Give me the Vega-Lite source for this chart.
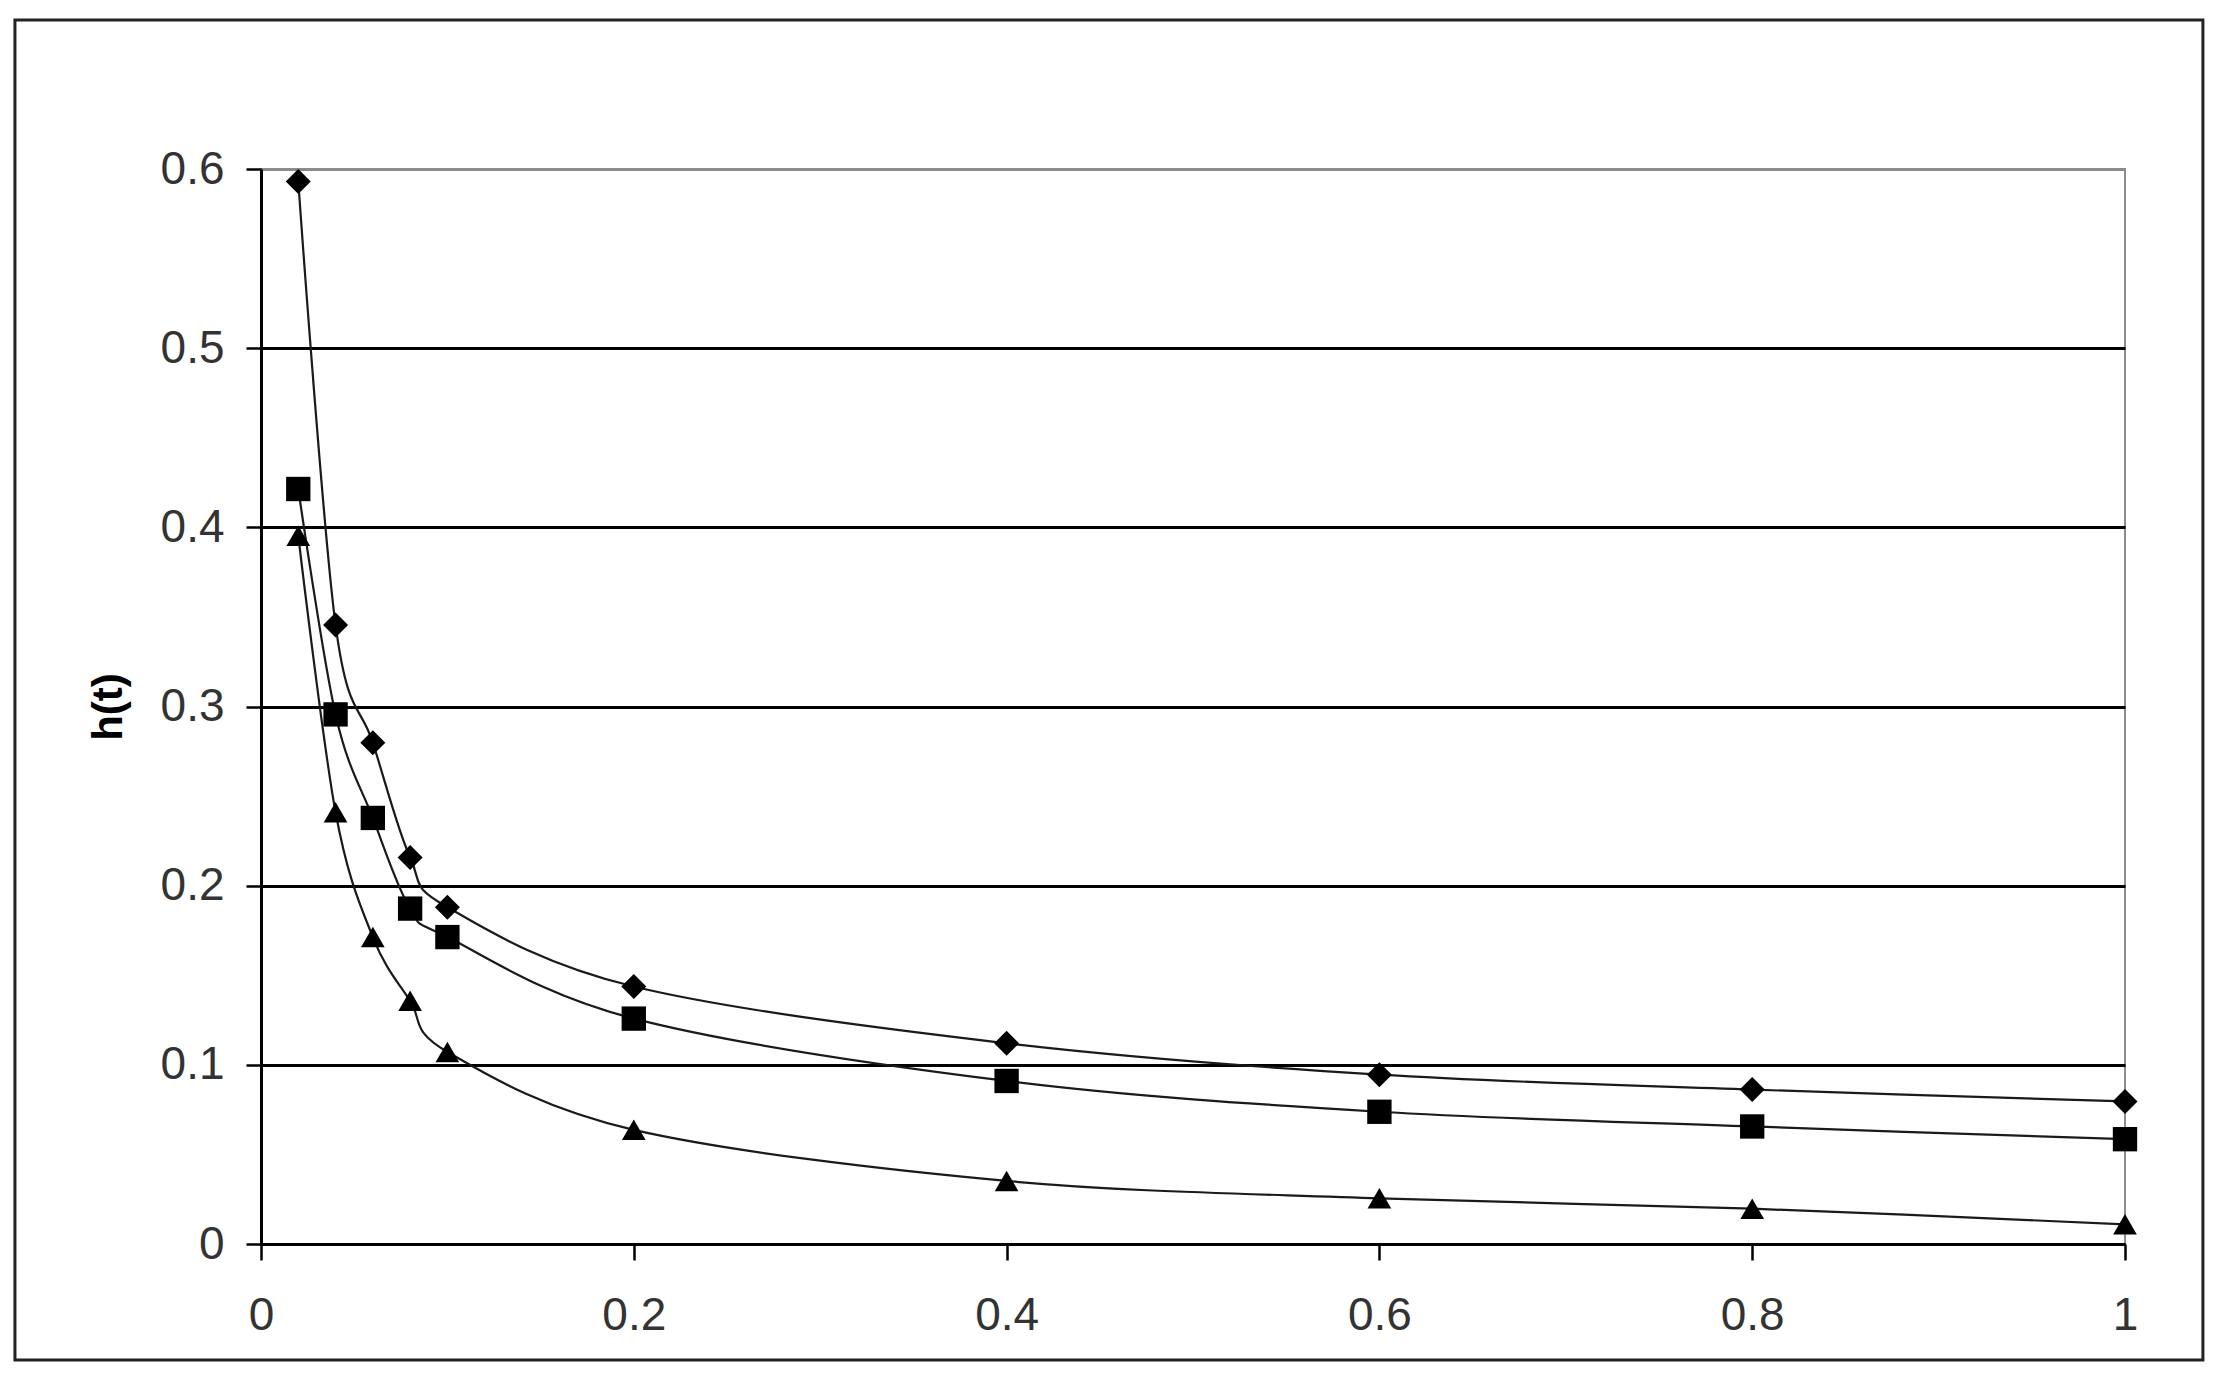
{
  "$schema": "https://vega.github.io/schema/vega-lite/v6.json",
  "autosize": {"type": "none"},
  "width": 1864,
  "height": 1075,
  "padding": {"left": 261, "top": 169, "right": 94, "bottom": 137},
  "background": "white",
  "config": {
    "view": {"stroke": "#8c8c8c", "strokeWidth": 2},
    "axis": {
      "domainColor": "black",
      "domainWidth": 3,
      "tickColor": "black",
      "tickWidth": 2.5,
      "labelFont": "Liberation Sans",
      "labelFontSize": 46,
      "labelColor": "#333333",
      "titleFont": "Liberation Sans"
    }
  },
  "datasets": {
    "series": [
      {"t": 0.02, "h": 0.593, "s": "A"},
      {"t": 0.04, "h": 0.3455, "s": "A"},
      {"t": 0.06, "h": 0.2798, "s": "A"},
      {"t": 0.08, "h": 0.2157, "s": "A"},
      {"t": 0.1, "h": 0.188, "s": "A"},
      {"t": 0.2, "h": 0.1437, "s": "A"},
      {"t": 0.4, "h": 0.112, "s": "A"},
      {"t": 0.6, "h": 0.0945, "s": "A"},
      {"t": 0.8, "h": 0.0862, "s": "A"},
      {"t": 1.0, "h": 0.0796, "s": "A"},
      {"t": 0.02, "h": 0.4214, "s": "B"},
      {"t": 0.04, "h": 0.2956, "s": "B"},
      {"t": 0.06, "h": 0.2378, "s": "B"},
      {"t": 0.08, "h": 0.1872, "s": "B"},
      {"t": 0.1, "h": 0.1713, "s": "B"},
      {"t": 0.2, "h": 0.1258, "s": "B"},
      {"t": 0.4, "h": 0.091, "s": "B"},
      {"t": 0.6, "h": 0.0738, "s": "B"},
      {"t": 0.8, "h": 0.0656, "s": "B"},
      {"t": 1.0, "h": 0.0585, "s": "B"},
      {"t": 0.02, "h": 0.3953, "s": "C"},
      {"t": 0.04, "h": 0.241, "s": "C"},
      {"t": 0.06, "h": 0.1713, "s": "C"},
      {"t": 0.08, "h": 0.1357, "s": "C"},
      {"t": 0.1, "h": 0.1072, "s": "C"},
      {"t": 0.2, "h": 0.0637, "s": "C"},
      {"t": 0.4, "h": 0.0352, "s": "C"},
      {"t": 0.6, "h": 0.0255, "s": "C"},
      {"t": 0.8, "h": 0.0197, "s": "C"},
      {"t": 1.0, "h": 0.011, "s": "C"}
    ]
  },
  "layer": [
    {
      "data": {"values": [{}]},
      "mark": {"type": "rect", "fill": null, "fillOpacity": 0, "stroke": "#222222", "strokeWidth": 3, "clip": false},
      "encoding": {
        "x": {"datum": -0.132, "type": "quantitative", "scale": {"domain": [0, 1], "nice": false, "zero": false}},
        "x2": {"datum": 1.0418},
        "y": {"datum": 0.6832, "type": "quantitative", "scale": {"domain": [0, 0.6], "nice": false, "zero": false}},
        "y2": {"datum": -0.0647}
      }
    },
    {
      "data": {"name": "series"},
      "mark": {"type": "line", "interpolate": "cardinal", "color": "#1a1a1a", "strokeWidth": 2.2},
      "encoding": {
        "x": {
          "field": "t", "type": "quantitative",
          "scale": {"domain": [0, 1], "nice": false, "zero": false},
          "axis": {"values": [0, 0.2, 0.4, 0.6, 0.8, 1], "format": ".1~f", "grid": false, "tickSize": 16, "labelPadding": 33, "title": null, "labelFlush": false}
        },
        "y": {
          "field": "h", "type": "quantitative",
          "scale": {"domain": [0, 0.6], "nice": false, "zero": false},
          "axis": {
            "values": [0, 0.1, 0.2, 0.3, 0.4, 0.5, 0.6],
            "format": ".1~f",
            "grid": true,
            "gridColor": {"condition": {"test": "datum.value >= 0.59", "value": "#8c8c8c"}, "value": "black"},
            "gridWidth": 3,
            "tickSize": 15,
            "labelPadding": 22,
            "labelFlush": false,
            "title": "h(t)",
            "titleFontWeight": "bold",
            "titleFontSize": 42,
            "titleColor": "black",
            "titlePadding": 30
          }
        },
        "detail": {"field": "s"}
      }
    },
    {
      "data": {"name": "series"},
      "mark": {"type": "point", "filled": true, "color": "black", "opacity": 1},
      "encoding": {
        "x": {"field": "t", "type": "quantitative"},
        "y": {"field": "h", "type": "quantitative"},
        "shape": {"field": "s", "type": "nominal", "scale": {"domain": ["A", "B", "C"], "range": ["diamond", "square", "triangle-up"]}, "legend": null},
        "size": {"field": "s", "type": "nominal", "scale": {"domain": ["A", "B", "C"], "range": [625, 560, 720]}, "legend": null}
      }
    }
  ]
}
